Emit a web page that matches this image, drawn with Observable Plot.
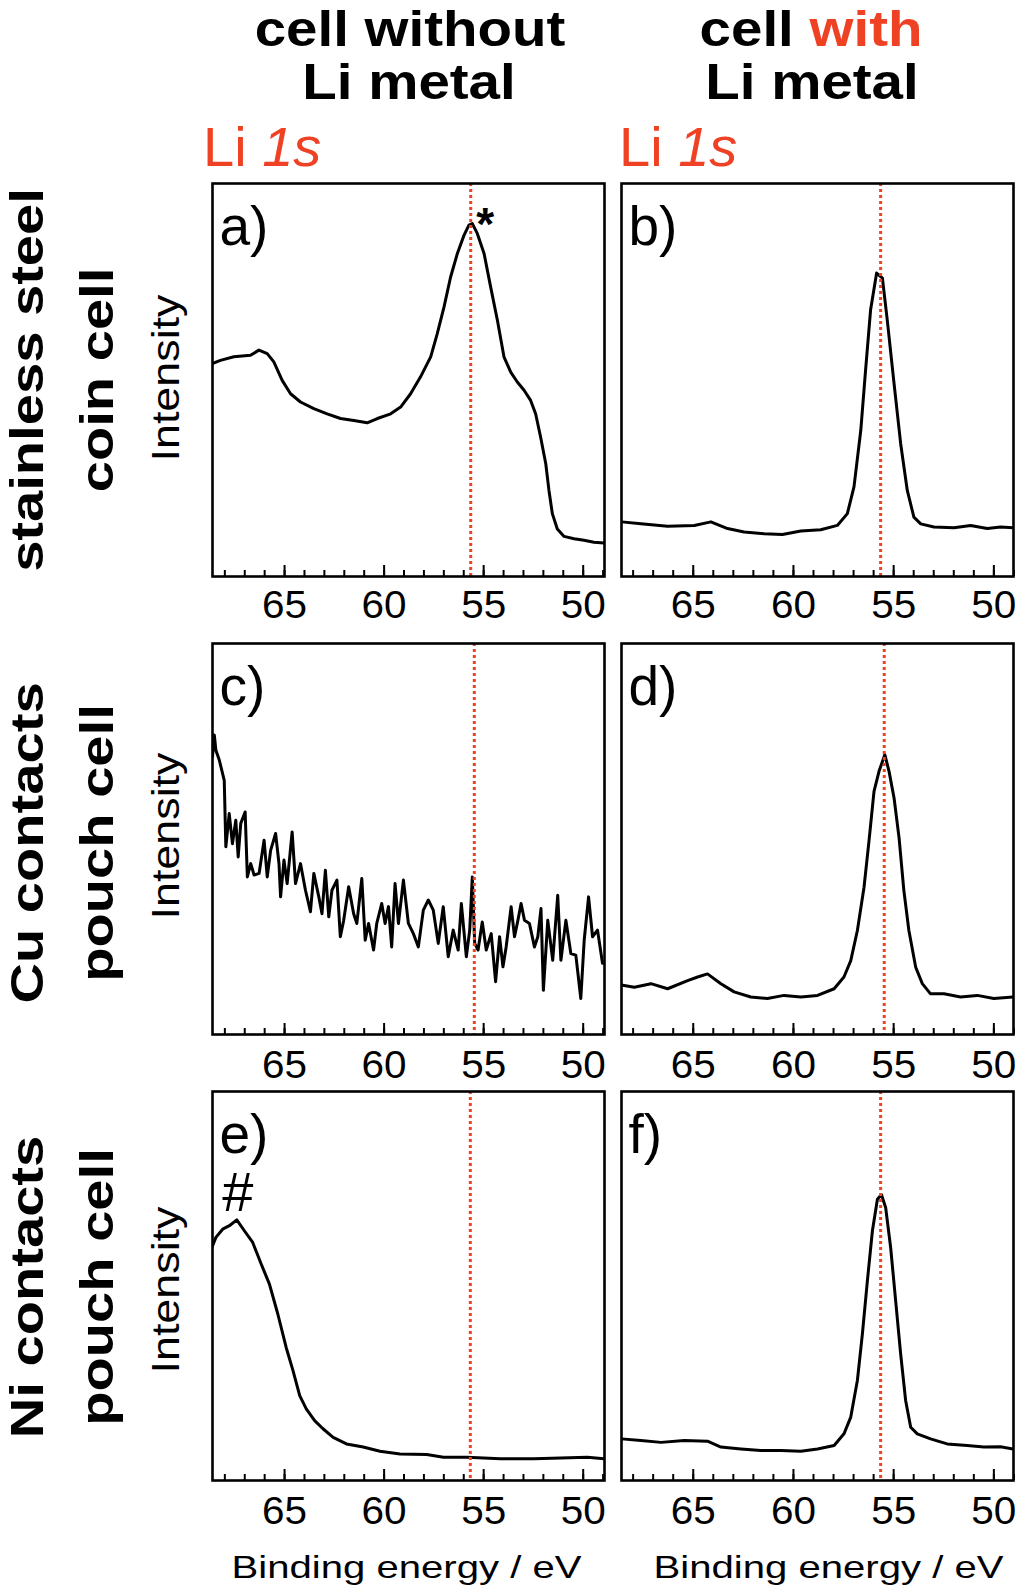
<!DOCTYPE html>
<html>
<head>
<meta charset="utf-8">
<script src="https://cdn.jsdelivr.net/npm/d3@7"></script>
<script src="https://cdn.jsdelivr.net/npm/@observablehq/plot@0.6"></script>
<style>
  html, body { margin: 0; padding: 0; background: #fff; }
  #fig { position: relative; width: 1016px; height: 1589px; overflow: hidden;
         font-family: Arial, "Liberation Sans", sans-serif; background: #fff; }
  .t { position: absolute; white-space: nowrap; }
</style>
</head>
<body>
<div id="fig"></div>
<script>
// ---------------- data ----------------
const columnTitles = [["cell without", "Li metal"], ["cell ", "with", "Li metal"]];
const rowTitles = [["stainless steel", "coin cell"], ["Cu contacts", "pouch cell"], ["Ni contacts", "pouch cell"]];
const coreLevel = ["Li ", "1s"];
const yLabel = "Intensity";
const xLabel = "Binding energy / eV";
const panelLetters = ["a)", "b)", "c)", "d)", "e)", "f)"];
const majorTicks = [50, 55, 60, 65];
const minorTicks = [49, 50, 51, 52, 53, 54, 55, 56, 57, 58, 59, 60, 61, 62, 63, 64, 65, 66, 67, 68];
const refEnergy = [55.65, 55.65, 55.47, 55.47, 55.67, 55.65];

// a) stainless steel coin cell, without Li metal
const energyA = [68.63,68.22,67.55,66.71,66.29,65.87,65.54,65.12,64.70,64.20,63.53,62.86,62.19,61.52,60.85,60.34,59.67,59.17,58.67,58.17,57.66,57.33,56.99,56.66,56.32,55.99,55.74,55.57,55.32,54.98,54.65,54.31,53.98,53.64,53.31,52.97,52.64,52.39,52.14,51.88,51.72,51.55,51.30,50.96,50.46,49.96,49.46,48.95];
const intensityA = [54.2,55.0,55.9,56.3,57.6,56.7,54.6,49.9,46.5,44.4,42.7,41.4,40.2,39.7,39.1,40.2,41.4,43.1,46.5,50.8,55.9,61.8,68.6,76.2,82.2,86.8,89.4,89.8,87.3,82.2,73.7,65.2,55.9,52.0,49.5,47.4,44.8,41.4,35.5,28.7,21.9,16.0,12.1,10.2,9.6,9.2,8.7,8.5];

// b) stainless steel coin cell, with Li metal
const energyB = [68.57,67.61,66.28,64.95,64.12,63.29,62.46,61.46,60.55,59.63,58.64,57.81,57.31,56.98,56.64,56.40,56.15,55.85,55.56,55.32,54.98,54.65,54.32,53.99,53.65,52.99,51.99,51.16,50.33,49.67,49.04];
const intensityB = [13.9,13.4,12.8,13.0,13.9,12.2,11.3,10.9,10.7,11.6,11.9,13.0,16.0,22.8,37.2,52.6,67.9,77.2,75.9,65.3,49.1,33.8,21.9,15.1,13.4,12.6,12.4,13.0,12.2,12.6,12.4];

// c) Cu contacts pouch cell, without Li metal
const energyC = [68.62,68.53,68.45,68.28,68.03,67.95,67.78,67.62,67.45,67.33,67.20,66.98,66.87,66.70,66.53,66.28,66.03,65.87,65.70,65.45,65.28,65.20,65.03,64.87,64.62,64.45,64.20,63.95,63.70,63.53,63.28,63.12,62.95,62.78,62.62,62.37,62.20,62.03,61.78,61.53,61.37,61.12,60.95,60.78,60.53,60.37,60.12,59.95,59.78,59.62,59.45,59.28,59.03,58.78,58.53,58.28,58.03,57.78,57.53,57.28,57.03,56.78,56.53,56.28,56.12,55.87,55.70,55.57,55.45,55.28,55.07,54.87,54.62,54.40,54.20,54.03,53.87,53.62,53.45,53.28,53.12,52.95,52.70,52.45,52.28,52.12,52.00,51.78,51.53,51.28,51.12,50.87,50.62,50.37,50.12,49.95,49.73,49.53,49.28,49.03];
const intensityC = [71.0,76.6,72.7,70.2,65.0,48.0,56.5,48.8,54.8,45.4,54.0,56.9,40.3,43.7,40.8,41.2,49.7,40.3,47.1,51.4,43.7,35.2,44.6,38.6,51.8,38.6,43.7,36.9,31.4,41.2,35.2,30.9,42.0,30.1,36.9,39.5,25.0,29.2,37.8,30.9,28.4,39.9,24.1,28.4,21.6,28.4,33.5,28.4,32.7,22.4,38.6,28.4,39.5,28.4,25.8,22.4,31.8,34.4,31.8,23.3,32.7,19.9,26.7,21.6,33.5,19.9,26.7,40.3,23.3,21.6,28.8,21.6,25.8,13.5,25.0,17.3,22.4,32.7,25.0,29.2,33.5,29.2,28.4,22.4,25.0,32.2,11.3,29.2,19.0,35.6,19.0,29.2,20.7,20.3,9.2,24.1,35.2,25.0,26.7,18.2];

// d) Cu contacts pouch cell, with Li metal
const energyD = [68.52,67.94,67.11,66.28,65.28,64.78,64.29,63.62,62.96,62.13,61.30,60.47,59.63,58.80,57.97,57.48,57.14,56.81,56.48,56.23,55.98,55.73,55.44,55.23,54.98,54.73,54.49,54.24,53.90,53.57,53.16,52.49,51.66,50.83,50.00,49.04];
const intensityD = [12.6,12.1,13.0,11.7,13.8,14.7,15.5,13.0,10.9,9.6,9.2,10.0,9.6,10.0,11.7,14.7,18.9,26.6,37.6,49.5,62.2,67.3,71.6,67.3,60.5,50.3,36.8,26.6,17.2,13.0,10.4,10.4,9.6,10.0,9.2,9.6];

// e) Ni contacts pouch cell, without Li metal
const energyE = [68.65,68.45,68.11,67.77,67.40,67.02,66.60,66.18,65.76,65.34,64.92,64.58,64.24,63.91,63.49,63.07,62.56,61.89,61.05,60.21,59.20,57.86,57.02,55.84,54.16,52.48,51.13,49.79,48.95];
const intensityE = [59.9,62.5,64.6,65.5,67.0,64.2,61.2,55.7,50.5,42.8,34.2,28.3,21.8,18.4,15.4,13.3,11.1,9.4,8.6,7.5,6.8,6.7,6.0,6.0,5.6,5.6,5.8,6.0,5.6];

// f) Ni contacts pouch cell, with Li metal
const energyF = [68.57,67.61,66.61,65.45,64.29,63.62,62.62,61.63,60.63,59.63,58.80,57.97,57.48,57.14,56.81,56.56,56.31,56.06,55.81,55.61,55.40,55.15,54.90,54.65,54.40,54.15,53.82,53.16,52.33,51.33,50.50,49.67,49.04];
const intensityF = [10.7,10.3,9.8,10.3,10.1,8.6,8.1,7.7,7.7,7.5,8.1,9.0,12.0,16.3,25.7,37.7,51.4,64.2,72.3,73.5,70.2,59.9,46.2,32.5,20.5,13.7,12.0,10.7,9.4,9.0,8.6,8.7,8.1];

// ---------------- layout & style ----------------
const RED = "#ef4123";
const FONT = 'Arial, "Liberation Sans", sans-serif';
const rowTop = [183, 643, 1091];
const rowH = [393, 391, 389];
const colLeft = [212, 621];
const colW = 392;
const colDomain = [[68.62, 48.93], [68.58, 49.02]];

const fig = document.getElementById("fig");

const panels = [
  {energy: energyA, intensity: intensityA, row: 0, col: 0, note: "*"},
  {energy: energyB, intensity: intensityB, row: 0, col: 1},
  {energy: energyC, intensity: intensityC, row: 1, col: 0},
  {energy: energyD, intensity: intensityD, row: 1, col: 1},
  {energy: energyE, intensity: intensityE, row: 2, col: 0, note: "#"},
  {energy: energyF, intensity: intensityF, row: 2, col: 1}
];

panels.forEach((p, i) => {
  const H = rowH[p.row], W = colW;
  const mT = 4, mL = 4, mR = 4, mB = p.row === 2 ? 112 : 56;
  const data = p.energy.map((e, k) => ({e, v: p.intensity[k]}));
  const marks = [
    Plot.line(data, {x: "e", y: "v", stroke: "#000", strokeWidth: 3, strokeLinejoin: "round", clip: true}),
    Plot.tickX(minorTicks, {x: d => d, insetTop: H - 6, stroke: "#000", strokeWidth: 2}),
    Plot.tickX(majorTicks, {x: d => d, insetTop: H - 11, stroke: "#000", strokeWidth: 2}),
    Plot.axisX({ticks: majorTicks, tickSize: 0, tickPadding: p.row === 0 ? 15 : 17, fontSize: 38, label: null, fontFamily: FONT}),
    Plot.ruleX([refEnergy[i]], {x: d => d, stroke: RED, strokeWidth: 3, strokeDasharray: "3,3"}),
    Plot.frame({stroke: "#000", strokeWidth: 2.6}),
    Plot.text([panelLetters[i]], {text: d => d, frameAnchor: "top-left", dx: 7, dy: 22, fontSize: 55, lineAnchor: "top", textAnchor: "start", fontFamily: FONT})
  ];
  if (p.note === "*") {
    marks.push(Plot.text(data, Plot.selectMaxY({x: "e", y: "v", text: () => "*", dx: 13, dy: 2, fontSize: 46, fontWeight: "bold", fontFamily: FONT})));
  }
  if (p.note === "#") {
    marks.push(Plot.text(data, Plot.selectMaxY({x: "e", y: "v", text: () => "#", dx: 1, dy: -27, fontSize: 56, fontFamily: FONT})));
  }
  if (p.row === 2) {
    marks.push(Plot.text([xLabel], {text: d => d, frameAnchor: "bottom", dx: p.col === 0 ? -2 : 11, dy: 87, fontSize: 32, lineAnchor: "middle", fontFamily: FONT}));
  }
  const svg = Plot.plot({
    width: W + mL + mR,
    height: H + mT + mB,
    marginTop: mT, marginLeft: mL, marginRight: mR, marginBottom: mB,
    x: {domain: colDomain[p.col]},
    y: {domain: [0, 100], axis: null},
    style: {fontFamily: FONT, background: "white", color: "black", overflow: "visible"},
    marks
  });
  svg.querySelectorAll("text").forEach(t => {
    if (t.textContent === xLabel) {
      t.setAttribute("textLength", 350);
      t.setAttribute("lengthAdjust", "spacingAndGlyphs");
    }
  });
  svg.querySelectorAll('g[aria-label="x-axis tick label"] text').forEach(t => {
    t.setAttribute("textLength", 45);
    t.setAttribute("lengthAdjust", "spacingAndGlyphs");
  });
  svg.style.position = "absolute";
  svg.style.left = (colLeft[p.col] - mL) + "px";
  svg.style.top = (rowTop[p.row] - mT) + "px";
  svg.style.maxWidth = "none";
  fig.appendChild(svg);
});

// ---------------- text annotations ----------------
// baseline offset from the top of a line box of height lh (em), Arial metrics
const baseOff = lh => (lh - 1.117) / 2 + 0.905;
function hText(html, x, baseline, fs, {bold = false, sx = 1, color = "#000", anchor = "middle", lh = 1} = {}) {
  const d = document.createElement("div");
  d.className = "t";
  d.innerHTML = html;
  d.style.fontSize = fs + "px";
  d.style.lineHeight = lh;
  d.style.fontWeight = bold ? "bold" : "normal";
  d.style.color = color;
  d.style.left = x + "px";
  d.style.top = (baseline - baseOff(lh) * fs) + "px";
  if (anchor === "middle") {
    d.style.transform = `translateX(-50%) scaleX(${sx})`;
  } else {
    d.style.transformOrigin = "0 0";
    d.style.transform = `scaleX(${sx})`;
  }
  fig.appendChild(d);
}
function vText(html, baselineX, cy, fs, {bold = false, s = 1} = {}) {
  const d = document.createElement("div");
  d.className = "t";
  d.innerHTML = html;
  d.style.fontSize = fs + "px";
  d.style.lineHeight = 1;
  d.style.fontWeight = bold ? "bold" : "normal";
  d.style.left = (baselineX - (baseOff(1) - 0.5) * fs) + "px";
  d.style.top = cy + "px";
  d.style.transform = `translate(-50%,-50%) rotate(-90deg) scaleX(${s})`;
  fig.appendChild(d);
}

// column titles
hText(columnTitles[0][0], 410, 46, 50, {bold: true, sx: 1.13});
hText(columnTitles[0][1], 408.5, 99, 50, {bold: true, sx: 1.13});
hText(columnTitles[1][0] + `<span style="color:${RED}">${columnTitles[1][1]}</span>`, 810.5, 46, 50, {bold: true, sx: 1.13});
hText(columnTitles[1][2], 812, 99, 50, {bold: true, sx: 1.13});

// core level labels
hText(`${coreLevel[0]}<i>${coreLevel[1]}</i>`, 203, 166.7, 56, {color: RED, anchor: "start"});
hText(`${coreLevel[0]}<i>${coreLevel[1]}</i>`, 619, 166.7, 56, {color: RED, anchor: "start"});

// row titles and y labels
const rowCenters = [380, 843, 1287];
const yLabelCenters = [378, 836, 1290];
rowTitles.forEach((lines, r) => {
  vText(lines[0], 43, rowCenters[r], 46, {bold: true, s: 1.22});
  vText(lines[1], 113, rowCenters[r], 46, {bold: true, s: 1.22});
  vText(yLabel, 179, yLabelCenters[r], 38, {s: 1.18});
});
</script>
</body>
</html>
